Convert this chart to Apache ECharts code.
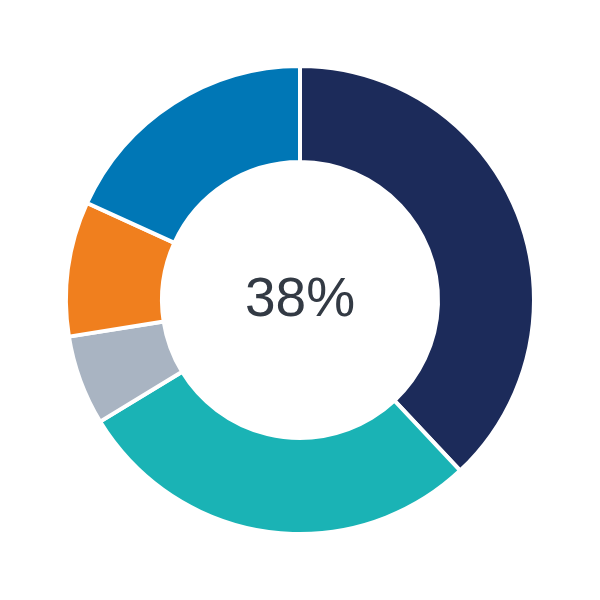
<!DOCTYPE html>
<html>
<head>
<meta charset="utf-8">
<script src="https://cdn.jsdelivr.net/npm/echarts@6/dist/echarts.min.js"></script>
<style>html,body{margin:0;padding:0;background:#fff}#c{width:600px;height:600px}</style>
</head>
<body>
<div id="c"></div>
<script>
const categories = ['A', 'B', 'C', 'D', 'E'];
const values = [38, 28.3, 6.2, 9.3, 18.2];
const colors = ['#1c2b5a', '#1ab3b5', '#a9b4c2', '#f07f1e', '#0077b6'];
const centerLabel = '38%';

const chart = echarts.init(document.getElementById('c'));
chart.setOption({
  animation: false,
  title: {
    text: centerLabel,
    left: 'center',
    top: 268,
    textStyle: { fontFamily: 'Liberation Sans, Arial, sans-serif', fontSize: 55, fontWeight: 'normal', color: '#333a44' }
  },
  series: [{
    type: 'pie',
    center: [300, 300],
    radius: [138, 234],
    startAngle: 90,
    clockwise: true,
    label: { show: false },
    labelLine: { show: false },
    itemStyle: { borderColor: '#ffffff', borderWidth: 4 },
    data: categories.map((c, i) => ({ name: c, value: values[i], itemStyle: { color: colors[i] } }))
  }]
});
</script>
</body>
</html>
